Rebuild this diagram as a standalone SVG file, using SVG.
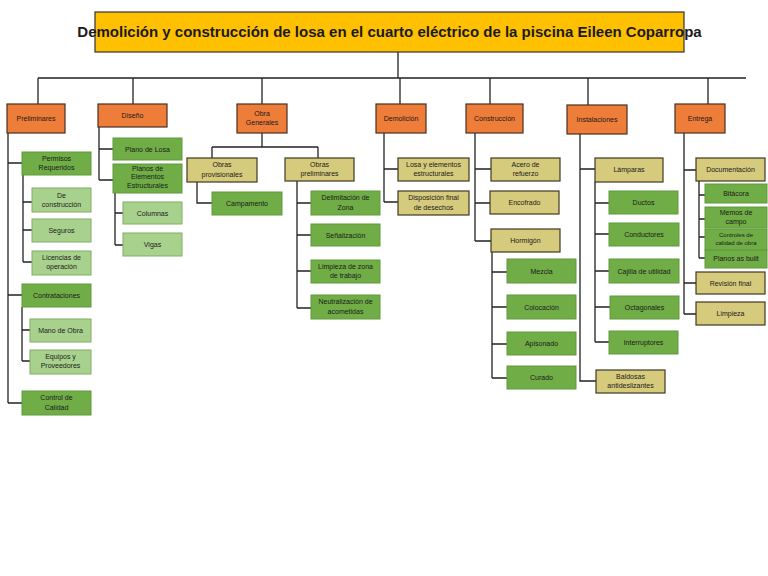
<svg xmlns="http://www.w3.org/2000/svg" width="768" height="576" viewBox="0 0 768 576">
<style>
text{font-family:"Liberation Sans",Arial,sans-serif;font-size:7px;fill:#1a1a1a;text-anchor:middle}
.t{font-size:15px;font-weight:bold}
.o{fill:#EE7D3A;stroke:#4a3020;stroke-width:1.2}
.g{fill:#70AD47;stroke:#5f9a3b;stroke-width:1}
.l{fill:#A9D18E;stroke:#7fae63;stroke-width:1}
.y{fill:#D6CA7C;stroke:#3f3a22;stroke-width:1.2}
.c path{fill:none;stroke:#222;stroke-width:1.3}
</style>
<rect width="768" height="576" fill="#fff"/>
<g class="c" id="connectors">
<path d="M398 52V78M38 78H746M38 78V104M133 78V104M262 78V104M400 78V104M490 78V104M588 78V105M708 78V104"/>
<path d="M8 133V403M8 163H22M8 295H22M8 403H22M23 175V262M23 202H32M23 230H32M23 262H32M22 307V361M22 330H30M22 361H30"/>
<path d="M99 127V180M99 149H113M99 180H113M115 193V245M115 213H123M115 245H123"/>
<path d="M262 133V147M212 147H318M212 147V158M318 147V158M197 182V203H212M297 181V308M297 203H311M297 235H311M297 271H311M297 308H311"/>
<path d="M384 133V202M384 169H398M384 202H398"/>
<path d="M475 133V241M475 169H491M475 203H490M475 241H491M492 252V378M492 272H507M492 307H507M492 344H507M492 378H507"/>
<path d="M580 134V381H596M580 169H595M595 182V342M595 203H609M595 234H609M595 271H609M595 307H610M595 342H609"/>
<path d="M684 133V314M684 170H696M684 283H696M684 314H696M699 181V258M699 195H705M699 219H705M699 237H705M699 258H705"/>
</g>
<g id="title"><rect x="95" y="12" width="589" height="40" fill="#FFC000" stroke="#333" stroke-width="1.2"/><text class="t" x="389.5" y="37">Demolición y construcción de losa en el cuarto eléctrico de la piscina Eileen Coparropa</text></g>
<g id="preliminares"><rect class="o" x="7" y="104" width="58" height="29"/><text x="36" y="121">Preliminares</text></g>
<g id="diseno"><rect class="o" x="98" y="104" width="69" height="23"/><text x="132.5" y="118">Diseño</text></g>
<g id="obra-generales"><rect class="o" x="237" y="104" width="50" height="29"/><text x="262" y="116">Obra</text><text x="262" y="125">Generales</text></g>
<g id="demolicion"><rect class="o" x="376" y="104" width="50" height="29"/><text x="401" y="121">Demolición</text></g>
<g id="construccion"><rect class="o" x="466" y="104" width="57" height="29"/><text x="494.5" y="121">Construcción</text></g>
<g id="instalaciones"><rect class="o" x="567" y="105" width="60" height="29"/><text x="597" y="122">Instalaciones</text></g>
<g id="entrega"><rect class="o" x="675" y="104" width="50" height="29"/><text x="700" y="121">Entrega</text></g>

<g id="permisos"><rect class="g" x="22" y="152" width="69" height="23"/><text x="56.5" y="161">Permisos</text><text x="56.5" y="170">Requeridos</text></g>
<g id="de-construccion"><rect class="l" x="32" y="188" width="59" height="24"/><text x="61.5" y="198">De</text><text x="61.5" y="207">construcción</text></g>
<g id="seguros"><rect class="l" x="32" y="219" width="59" height="23"/><text x="61.5" y="233">Seguros</text></g>
<g id="licencias"><rect class="l" x="32" y="251" width="59" height="24"/><text x="61.5" y="260">Licencias de</text><text x="61.5" y="269">operación</text></g>
<g id="contrataciones"><rect class="g" x="22" y="284" width="69" height="23"/><text x="56.5" y="298">Contrataciones</text></g>
<g id="mano-obra"><rect class="l" x="30" y="319" width="61" height="23"/><text x="60.5" y="333">Mano de Obra</text></g>
<g id="equipos"><rect class="l" x="30" y="350" width="61" height="24"/><text x="60.5" y="359">Equipos y</text><text x="60.5" y="368">Proveedores</text></g>
<g id="control-calidad"><rect class="g" x="22" y="391" width="69" height="24"/><text x="56.5" y="400">Control de</text><text x="56.5" y="410">Calidad</text></g>

<g id="plano-losa"><rect class="g" x="113" y="138" width="69" height="22"/><text x="147.5" y="152">Plano de Losa</text></g>
<g id="planos-elementos"><rect class="g" x="113" y="164" width="69" height="29"/><text x="147.5" y="171">Planos de</text><text x="147.5" y="179">Elementos</text><text x="147.5" y="188">Estructurales</text></g>
<g id="columnas"><rect class="l" x="123" y="202" width="59" height="22"/><text x="152.5" y="216">Columnas</text></g>
<g id="vigas"><rect class="l" x="123" y="233" width="59" height="23"/><text x="152.5" y="247">Vigas</text></g>

<g id="obras-provisionales"><rect class="y" x="187" y="158" width="70" height="24"/><text x="222" y="167">Obras</text><text x="222" y="177">provisionales</text></g>
<g id="campamento"><rect class="g" x="212" y="192" width="70" height="23"/><text x="247" y="206">Campamento</text></g>
<g id="obras-preliminares"><rect class="y" x="285" y="158" width="69" height="23"/><text x="319.5" y="167">Obras</text><text x="319.5" y="176">preliminares</text></g>
<g id="delimitacion"><rect class="g" x="311" y="191" width="69" height="24"/><text x="345.5" y="200">Delimitación de</text><text x="345.5" y="210">Zona</text></g>
<g id="senalizacion"><rect class="g" x="311" y="224" width="69" height="22"/><text x="345.5" y="238">Señalización</text></g>
<g id="limpieza-zona"><rect class="g" x="311" y="260" width="69" height="23"/><text x="345.5" y="269">Limpieza de zona</text><text x="345.5" y="278">de trabajo</text></g>
<g id="neutralizacion"><rect class="g" x="311" y="295" width="69" height="24"/><text x="345.5" y="304">Neutralización de</text><text x="345.5" y="314">acometidas</text></g>

<g id="losa-elementos"><rect class="y" x="398" y="158" width="71" height="23"/><text x="433.5" y="167">Losa y elementos</text><text x="433.5" y="176">estructurales</text></g>
<g id="disposicion"><rect class="y" x="398" y="191" width="71" height="24"/><text x="433.5" y="200">Disposición final</text><text x="433.5" y="210">de desechos</text></g>

<g id="acero"><rect class="y" x="491" y="158" width="69" height="23"/><text x="525.5" y="167">Acero de</text><text x="525.5" y="176">refuerzo</text></g>
<g id="encofrado"><rect class="y" x="490" y="191" width="69" height="23"/><text x="524.5" y="205">Encofrado</text></g>
<g id="hormigon"><rect class="y" x="491" y="229" width="69" height="23"/><text x="525.5" y="243">Hormigón</text></g>
<g id="mezcla"><rect class="g" x="507" y="259" width="69" height="24"/><text x="541.5" y="274">Mezcla</text></g>
<g id="colocacion"><rect class="g" x="507" y="295" width="69" height="24"/><text x="541.5" y="310">Colocación</text></g>
<g id="apisonado"><rect class="g" x="507" y="332" width="69" height="23"/><text x="541.5" y="346">Apisonado</text></g>
<g id="curado"><rect class="g" x="507" y="366" width="69" height="23"/><text x="541.5" y="380">Curado</text></g>

<g id="lamparas"><rect class="y" x="595" y="158" width="68" height="24"/><text x="629" y="172">Lámparas</text></g>
<g id="ductos"><rect class="g" x="609" y="191" width="69" height="23"/><text x="643.5" y="205">Ductos</text></g>
<g id="conductores"><rect class="g" x="609" y="223" width="70" height="23"/><text x="644" y="237">Conductores</text></g>
<g id="cajilla"><rect class="g" x="609" y="259" width="70" height="24"/><text x="644" y="274">Cajilla de utilidad</text></g>
<g id="octagonales"><rect class="g" x="610" y="296" width="69" height="23"/><text x="644.5" y="310">Octagonales</text></g>
<g id="interruptores"><rect class="g" x="609" y="331" width="69" height="23"/><text x="643.5" y="345">Interruptores</text></g>
<g id="baldosas"><rect class="y" x="596" y="370" width="69" height="23"/><text x="630.5" y="379">Baldosas</text><text x="630.5" y="388">antideslizantes</text></g>

<g id="documentacion"><rect class="y" x="696" y="158" width="69" height="23"/><text x="730.5" y="172">Documentación</text></g>
<g id="bitacora"><rect class="g" x="705" y="184" width="62" height="19"/><text x="736" y="196">Bitácora</text></g>
<g id="memos"><rect class="g" x="705" y="207" width="62" height="21"/><text x="736" y="215">Memos de</text><text x="736" y="224">campo</text></g>
<g id="controles"><rect class="g" x="705" y="229" width="62" height="21"/><text x="736" y="237" style="font-size:6px">Controles de</text><text x="736" y="245" style="font-size:6px">calidad de obra</text></g>
<g id="planos-built"><rect class="g" x="705" y="250" width="62" height="18"/><text x="736" y="261">Planos as built</text></g>
<g id="revision"><rect class="y" x="696" y="272" width="69" height="22"/><text x="730.5" y="286">Revisión final</text></g>
<g id="limpieza"><rect class="y" x="696" y="302" width="69" height="23"/><text x="730.5" y="316">Limpieza</text></g>
</svg>
